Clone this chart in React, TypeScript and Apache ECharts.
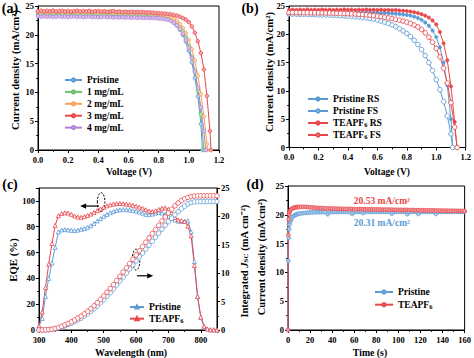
import { useEffect, useRef } from "react";
import * as echarts from "echarts";

const FONT = '"Liberation Serif", "Times New Roman", Times, serif';
const BLUE = "#5b9bd5";
const GREEN = "#6cc06c";
const ORANGE = "#f5a35c";
const RED = "#e8484c";
const PURPLE = "#b07fd6";

// ---------- (a) J-V for different concentrations ----------
const voltageA = [0, 0.02, 0.04, 0.06, 0.08, 0.1, 0.12, 0.14, 0.16, 0.18, 0.2, 0.22, 0.24, 0.26, 0.28, 0.3, 0.32, 0.34, 0.36, 0.38, 0.4, 0.42, 0.44, 0.46, 0.48, 0.5, 0.52, 0.54, 0.56, 0.58, 0.6, 0.62, 0.64, 0.66, 0.68, 0.7, 0.72, 0.74, 0.76, 0.78, 0.8, 0.82, 0.84, 0.86, 0.88, 0.9, 0.92, 0.94, 0.96, 0.98, 1.0, 1.02, 1.04, 1.06, 1.08, 1.1, 1.12, 1.14];
const namesA = ["Pristine", "1 mg/mL", "2 mg/mL", "3 mg/mL", "4 mg/mL"];
const jPristineA = [23.45, 23.38, 23.42, 23.35, 23.4, 23.44, 23.36, 23.41, 23.38, 23.33, 23.4, 23.37, 23.42, 23.35, 23.39, 23.34, 23.41, 23.36, 23.38, 23.32, 23.37, 23.4, 23.34, 23.36, 23.31, 23.38, 23.33, 23.35, 23.3, 23.34, 23.29, 23.33, 23.28, 23.31, 23.27, 23.3, 23.25, 23.28, 23.24, 23.22,
  23.2, 23.1, 23.0, 22.8, 22.5, 22.1, 21.6, 20.9, 20.0, 18.8, 17.2, 15.2, 12.5, 9.3, 4.5];
const j1mgA = [23.72, 23.65, 23.7, 23.62, 23.68, 23.74, 23.66, 23.7, 23.64, 23.69, 23.61, 23.67, 23.72, 23.63, 23.68, 23.6, 23.66, 23.7, 23.62, 23.65, 23.59, 23.66, 23.61, 23.64, 23.58, 23.63, 23.57, 23.62, 23.56, 23.6, 23.55, 23.58, 23.52, 23.56, 23.5, 23.53, 23.48, 23.5, 23.46, 23.44,
  23.4, 23.3, 23.2, 23.0, 22.8, 22.5, 22.0, 21.4, 20.6, 19.5, 18.0, 16.1, 13.6, 10.4, 6.2];
const j2mgA = [24.02, 23.95, 24.05, 23.98, 24.03, 23.94, 24.0, 24.06, 23.97, 24.01, 23.93, 23.99, 24.04, 23.96, 24.0, 23.92, 23.98, 24.02, 23.94, 23.97, 23.91, 23.96, 23.99, 23.9, 23.95, 23.88, 23.93, 23.86, 23.91, 23.84, 23.89, 23.82, 23.86, 23.8, 23.83, 23.78, 23.8, 23.75, 23.72, 23.68,
  23.6, 23.5, 23.4, 23.3, 23.1, 22.8, 22.4, 21.9, 21.2, 20.3, 19.1, 17.5, 15.5, 12.9, 9.7, 5.8, 1.0];
const j3mgA = [24.1, 24.18, 24.05, 24.15, 24.08, 24.2, 24.02, 24.12, 24.16, 24.06, 24.14, 24.0, 24.1, 24.18, 24.04, 24.12, 24.07, 24.15, 24.01, 24.09, 24.13, 24.03, 24.1, 23.98, 24.06, 24.11, 23.97, 24.04, 23.95, 24.02, 23.93, 24.0, 23.92, 23.97, 23.9, 23.94, 23.87, 23.9, 23.84, 23.8,
  23.75, 23.72, 23.68, 23.62, 23.55, 23.45, 23.32, 23.15, 22.92, 22.62, 22.2, 21.45, 20.35, 18.85, 16.85, 14.0, 9.4, 3.3];
const j4mgA = [23.22, 23.15, 23.2, 23.12, 23.18, 23.1, 23.16, 23.21, 23.11, 23.17, 23.08, 23.14, 23.19, 23.09, 23.15, 23.06, 23.13, 23.17, 23.07, 23.12, 23.05, 23.11, 23.14, 23.04, 23.1, 23.02, 23.08, 23.0, 23.06, 22.99, 23.04, 22.97, 23.02, 22.95, 22.99, 22.93, 22.96, 22.91, 22.93, 22.9,
  22.86, 22.8, 22.72, 22.6, 22.42, 22.12, 21.65, 21.02, 20.2, 19.1, 17.7, 15.9, 13.6, 10.8, 7.4, 3.3];
const vocA = [1.09, 1.1, 1.122, 1.147, 1.112];

// ---------- (b) hysteresis ----------
const voltageB = [0, 0.025, 0.05, 0.075, 0.1, 0.125, 0.15, 0.175, 0.2, 0.225, 0.25, 0.275, 0.3, 0.325, 0.35, 0.375, 0.4, 0.425, 0.45, 0.475, 0.5, 0.525, 0.55, 0.575, 0.6, 0.625, 0.65, 0.675, 0.7, 0.725, 0.75, 0.775, 0.8, 0.825, 0.85, 0.875, 0.9, 0.925, 0.95, 0.975, 1.0, 1.025, 1.05, 1.075, 1.1, 1.125];
const namesB = ["Pristine RS", "Pristine FS", "TEAPF6 RS", "TEAPF6 FS"];
const jPristineRS = [23.7, 23.74, 23.72, 23.76, 23.73, 23.78, 23.75, 23.79, 23.76, 23.8, 23.78, 23.82, 23.79, 23.83, 23.8, 23.84, 23.81, 23.85, 23.82, 23.84, 23.82, 23.85, 23.81, 23.83, 23.8, 23.78, 23.76, 23.72, 23.68,
  23.63, 23.57, 23.5, 23.42, 23.3, 23.12, 22.88, 22.55, 22.1, 21.5, 20.65, 19.5, 17.7, 15.0, 11.0, 5.0];
const jPristineFS = [23.6, 23.58, 23.57, 23.55, 23.54, 23.52, 23.5, 23.48, 23.46, 23.44, 23.42, 23.4, 23.37, 23.34, 23.31, 23.27, 23.22, 23.17, 23.12, 23.06, 22.98, 22.9, 22.8, 22.68, 22.52, 22.35, 22.15, 21.92, 21.65, 21.35, 21.0, 20.6, 20.15, 19.6, 18.95, 18.2, 17.3, 16.25, 15.0, 13.6, 12.0, 10.2, 8.1, 5.6, 2.4];
const jTeapfRS = [24.3, 24.34, 24.28, 24.36, 24.31, 24.38, 24.3, 24.35, 24.29, 24.37, 24.32, 24.36, 24.28, 24.34, 24.3, 24.38, 24.33, 24.36, 24.29, 24.35, 24.31, 24.37, 24.3, 24.34, 24.28, 24.33, 24.27, 24.31, 24.24, 24.28, 24.21, 24.17, 24.12,
  24.02, 23.9, 23.75, 23.55, 23.3, 22.95, 22.45, 21.75, 20.4, 18.4, 15.4, 10.8, 4.5];
const jTeapfFS = [23.85, 23.84, 23.84, 23.83, 23.82, 23.82, 23.81, 23.8, 23.79, 23.78, 23.77, 23.75, 23.74, 23.72, 23.7, 23.68, 23.65, 23.62, 23.58, 23.54, 23.5, 23.44, 23.38, 23.3, 23.22, 23.12, 23.02, 22.9, 22.78, 22.64, 22.5, 22.34, 22.15, 21.92, 21.65, 21.3, 20.85, 20.25, 19.5, 18.6, 17.5, 16.0, 14.0, 11.4, 7.9, 3.6];
const vocB = [1.112, 1.112, 1.141, 1.142];

// ---------- (c) EQE and integrated Jsc ----------
const wavelength = [300, 310, 320, 330, 340, 350, 360, 370, 380, 390, 400, 410, 420, 430, 440, 450, 460, 470, 480, 490, 500, 510, 520, 530, 540, 550, 560, 570, 580, 590, 600, 610, 620, 630, 640, 650, 660, 670, 680, 690, 700, 710, 720, 730, 740, 750, 760, 770, 780, 790, 800, 810, 820, 830, 840, 850];
const eqePristine = [3, 9, 26, 40, 52, 64, 76, 77.5, 77.8, 77.5, 77.2, 77.0, 77.4, 78.0, 78.6, 79.5, 80.8, 82.5, 84.4, 86.3, 88.0, 89.5, 90.8, 91.8, 92.6, 93.1, 93.3, 93.2, 93.0, 92.6, 92.1, 91.4, 90.5, 89.6, 89.3, 89.8, 90.6, 91.0, 90.6, 89.5, 88.0, 86.6, 85.2, 84.4, 84.0, 84.3, 84.6, 76.0, 53.0, 26.0, 9.5, 3.0, 0.8, 0.2, 0.1, 0];
const eqeTeapf = [3, 14, 33, 51, 67, 81, 88.5, 90.2, 90.8, 90.6, 89.6, 88.3, 87.5, 87.3, 87.8, 88.7, 89.8, 91.0, 92.4, 93.8, 95.1, 96.2, 97.0, 97.6, 97.9, 98.0, 97.8, 97.5, 97.1, 96.6, 96.0, 95.2, 94.3, 93.2, 92.2, 91.8, 92.4, 93.4, 94.3, 94.6, 93.6, 90.8, 87.2, 85.3, 84.8, 84.0, 80.5, 73.0, 50.0, 26.0, 10.0, 3.0, 0.8, 0.2, 0.1, 0];
const intPristine = [0, 0.01, 0.02, 0.05, 0.11, 0.2, 0.33, 0.5, 0.72, 0.95, 1.2, 1.47, 1.77, 2.1, 2.46, 2.86, 3.28, 3.74, 4.24, 4.78, 5.35, 5.95, 6.58, 7.24, 7.92, 8.62, 9.33, 10.04, 10.75, 11.46, 12.17, 12.87, 13.56, 14.24, 14.93, 15.63, 16.34, 17.05, 17.75, 18.43, 19.08, 19.7, 20.3, 20.85, 21.35, 21.8, 22.2, 22.45, 22.56, 22.6, 22.62, 22.62, 22.62, 22.62, 22.62, 22.62];
const intTeapf = [0, 0.01, 0.03, 0.07, 0.15, 0.28, 0.45, 0.65, 0.9, 1.15, 1.45, 1.75, 2.1, 2.45, 2.85, 3.3, 3.75, 4.25, 4.8, 5.4, 6.0, 6.65, 7.3, 8.0, 8.7, 9.45, 10.2, 10.95, 11.7, 12.45, 13.2, 13.95, 14.7, 15.45, 16.2, 16.95, 17.7, 18.45, 19.2, 19.9, 20.6, 21.25, 21.85, 22.35, 22.8, 23.1, 23.35, 23.5, 23.58, 23.62, 23.63, 23.63, 23.63, 23.63, 23.63, 23.63];

// ---------- (d) steady-state output ----------
const timeD = [0, 0.3, 0.6, 1, 1.5, 2, 2.5, 3, 4, 5, 6, 7, 8, 9, 10, 12, 14, 16, 18, 20, 22, 24, 26, 28, 30, 32, 34, 36, 38, 40, 42, 44, 46, 48, 50, 52, 54, 56, 58, 60, 62, 64, 66, 68, 70, 72, 74, 76, 78, 80, 82, 84, 86, 88, 90, 92, 94, 96, 98, 100, 102, 104, 106, 108, 110, 112, 114, 116, 118, 120, 122, 124, 126, 128, 130, 132, 134, 136, 138, 140, 142, 144, 146, 148, 150, 152, 154, 156, 158, 160];
const jPristineD = [0, 12.0, 16.0, 17.5, 18.3, 18.8, 19.1, 19.3, 19.6, 19.8, 19.9, 20.0, 20.1, 20.15, 20.2,
  20.25, 20.3, 20.33, 20.36, 20.4, 20.42, 20.44, 20.45, 20.46, 20.47, 20.48, 20.47, 20.1, 20.45, 20.48, 20.5, 20.49, 20.5, 20.51, 20.5, 20.52, 20.5, 20.51, 20.15, 20.45, 20.5, 20.52, 20.51, 20.3, 20.5, 20.52, 20.51, 20.53, 20.52, 20.54, 20.53, 20.52, 20.54, 20.53, 20.52, 20.5, 20.2, 20.48, 20.52, 20.53, 20.52, 20.54, 20.5, 20.12, 20.45, 20.52, 20.53, 20.5, 20.15, 20.48, 20.52, 20.53, 20.52, 20.54, 20.52, 20.5, 20.15, 20.48, 20.52, 20.53, 20.52, 20.54, 20.53, 20.52, 20.54, 20.53, 20.52, 20.54, 20.53, 20.52];
const jTeapfD = [0, 16.5, 19.2, 20.1, 20.5, 20.75, 20.9, 21.0, 21.1, 21.2, 21.25, 21.3, 21.32, 21.35, 21.36,
  21.38, 21.38, 21.36, 21.34, 21.3, 21.27, 21.24, 21.2, 21.18, 21.16, 21.14, 21.12, 21.1, 21.1, 21.08, 21.07, 21.06, 21.05, 21.04, 21.03, 21.02, 21.02, 21.0, 21.0, 20.99, 20.98, 20.98, 20.97, 20.96, 20.96, 20.95, 20.94, 20.94, 20.93, 20.92, 20.92, 20.91, 20.9, 20.9, 20.89, 20.88, 20.88, 20.87, 20.86, 20.86, 20.85, 20.84, 20.84, 20.83, 20.82, 20.82, 20.81, 20.8, 20.8, 20.79, 20.78, 20.78, 20.77, 20.76, 20.76, 20.75, 20.74, 20.74, 20.73, 20.72, 20.72, 20.71, 20.7, 20.7, 20.69, 20.68, 20.68, 20.67, 20.66, 20.66];
const avgTexts = ["20.53 mA/cm²", "20.31 mA/cm²"];

function jvPairs(vs: number[], js: number[], voc: number) {
  const out: number[][] = js.map((j, i) => [vs[i], j]);
  out.push([voc, 0]);
  return out;
}
function zipPairs(xs: number[], ys: number[]) {
  return ys.map((y, i) => [xs[i], y]);
}

const bold = { fontFamily: FONT, fontWeight: "bold" as const, color: "#000" };

function series(name: string, data: number[][], xi: number, yi: number, color: string, symbol: string, size: number, fill: string, bw = 0.8) {
  return {
    type: "line", name, data, xAxisIndex: xi, yAxisIndex: yi,
    symbol, symbolSize: size, showSymbol: true, showAllSymbol: true,
    color,
    lineStyle: { color, width: 1 },
    itemStyle: { color: fill, borderColor: color, borderWidth: bw },
    emphasis: { disabled: true }, silent: true,
  };
}

function axis(extra: any) {
  return {
    type: "value",
    axisLine: { show: true, onZero: false, lineStyle: { color: "#000", width: 1 } },
    axisTick: { show: true, inside: false, length: 3, lineStyle: { color: "#000", width: 1 } },
    minorTick: { show: true, splitNumber: 2, length: 1.8, lineStyle: { color: "#000", width: 1 } },
    splitLine: { show: false },
    axisLabel: { ...bold, fontSize: 8.5, margin: 4 },
    ...extra,
  };
}

const legendText = {
  ...bold, fontSize: 9.5, lineHeight: 10,
  rich: { sub: { ...bold, fontSize: 6.5, lineHeight: 5, verticalAlign: "bottom" as const } },
};
const legendFmt = (name: string) => name.split(":")[1].replace("TEAPF6", "TEAPF{sub|6}");

export default function App() {
  const ref = useRef<HTMLDivElement>(null);
  useEffect(() => {
    const chart = echarts.init(ref.current!, null, { renderer: "svg" });
    const colorsA = [BLUE, GREEN, ORANGE, RED, PURPLE];
    const fillsA = ["#b7d5ef", "#b8e2b8", "#fad2ad", "#f4a8aa", "#dcc2ef"];
    const jA = [jPristineA, j1mgA, j2mgA, j3mgA, j4mgA];
    const sA = namesA.map((n, i) => series("a:" + n, jvPairs(voltageA, jA[i], vocA[i]), 0, 0, colorsA[i], "circle", 3.6, fillsA[i]));
    const jB = [jPristineRS, jPristineFS, jTeapfRS, jTeapfFS];
    const colB = [BLUE, BLUE, RED, RED];
    const sB = namesB.map((n, i) => series("b:" + n, jvPairs(voltageB, jB[i], vocB[i]), 1, 1, colB[i], "circle", i % 2 === 0 ? 3.4 : 4.6, i % 2 === 0 ? colB[i] : "#fff", i % 2 === 0 ? 0.6 : 0.9));
    const sC = [
      series("c:Pristine", zipPairs(wavelength, eqePristine), 2, 2, BLUE, "triangle", 4, "#fff"),
      series("c:TEAPF6", zipPairs(wavelength, eqeTeapf), 2, 2, RED, "triangle", 4, "#fff"),
      series("ci:Pristine", zipPairs(wavelength, intPristine), 2, 3, BLUE, "circle", 4.6, "#fff"),
      series("ci:TEAPF6", zipPairs(wavelength, intTeapf), 2, 3, RED, "circle", 4.6, "#fff"),
    ];
    const sD = [
      series("d:Pristine", zipPairs(timeD, jPristineD), 3, 4, BLUE, "circle", 3.8, "#a9cbea", 0.8),
      series("d:TEAPF6", zipPairs(timeD, jTeapfD), 3, 4, RED, "circle", 3.8, "#f29a9c", 0.8),
    ];

    const gridBox = { show: true, borderColor: "#000", borderWidth: 1, containLabel: false };
    const vFmt = (v: number) => v.toFixed(1);
    const option: any = {
      animation: false,
      backgroundColor: "#fff",
      textStyle: { fontFamily: FONT },
      grid: [
        { ...gridBox, left: 38, top: 6, width: 181, height: 144 },
        { ...gridBox, left: 289, top: 6, width: 177, height: 141.5 },
        { ...gridBox, left: 39, top: 188, width: 178, height: 142 },
        { ...gridBox, left: 288, top: 186, width: 179, height: 144 },
      ],
      xAxis: [
        axis({ gridIndex: 0, min: 0, max: 1.2, interval: 0.2, axisLabel: { ...bold, fontSize: 8.5, margin: 5, formatter: vFmt } }),
        axis({ gridIndex: 1, min: 0, max: 1.2, interval: 0.2, axisLabel: { ...bold, fontSize: 8.5, margin: 5, formatter: vFmt } }),
        axis({ gridIndex: 2, min: 300, max: 850, interval: 100, axisLabel: { ...bold, fontSize: 8.5, margin: 5, showMaxLabel: false } }),
        axis({ gridIndex: 3, min: 0, max: 160, interval: 20, axisLabel: { ...bold, fontSize: 8.5, margin: 5 } }),
      ],
      yAxis: [
        axis({ gridIndex: 0, min: 0, max: 25, interval: 5 }),
        axis({ gridIndex: 1, min: 0, max: 25, interval: 5 }),
        axis({ gridIndex: 2, min: 0, max: 110, interval: 20, axisLabel: { ...bold, fontSize: 8.5, margin: 4, showMaxLabel: false } }),
        axis({ gridIndex: 2, position: "right", min: 0, max: 25, interval: 5 }),
        axis({ gridIndex: 3, min: 0, max: 25, interval: 5 }),
      ],
      legend: [
        { data: namesA.map((n) => "a:" + n), left: 59, top: 70, orient: "vertical", itemWidth: 17, itemHeight: 4, itemGap: 1.9, selectedMode: false, textStyle: legendText, formatter: legendFmt },
        { data: namesB.map((n) => "b:" + n), left: 302, top: 89, orient: "vertical", itemWidth: 20, itemHeight: 4, itemGap: 2, selectedMode: false, textStyle: legendText, formatter: legendFmt },
        { data: ["c:Pristine", "c:TEAPF6"], left: 124, top: 297, orient: "vertical", itemWidth: 14, itemHeight: 4, itemGap: 1.7, selectedMode: false, textStyle: legendText, formatter: legendFmt },
        { data: ["d:Pristine", "d:TEAPF6"], left: 369, top: 282, orient: "vertical", itemWidth: 18, itemHeight: 4, itemGap: 2.7, selectedMode: false, textStyle: legendText, formatter: legendFmt },
      ],
      series: [...sA, ...sB, ...sC, ...sD],
    };
    chart.setOption(option);

    const pc = (x: number, y: number) => chart.convertToPixel({ xAxisIndex: 2, yAxisIndex: 2 }, [x, y]) as number[];
    const pd = (x: number, y: number) => chart.convertToPixel({ xAxisIndex: 3, yAxisIndex: 4 }, [x, y]) as number[];
    const e1 = pc(492, 99);
    const a1s = pc(485, 96), a1e = pc(427, 96);
    const e2 = pc(600, 54.5);
    const a2s = pc(603, 42), a2e = pc(653, 42);
    const t1 = pd(85, 22.4), t2 = pd(85, 18.5);

    const txt = (text: string, x: number, y: number, size: number, rot = 0, fill = "#000", rich?: any) => ({
      type: "text", x, y, rotation: rot, silent: true,
      style: { text, fill, fontFamily: FONT, fontWeight: "bold", fontSize: size, align: "center", verticalAlign: "middle", rich },
    });
    const R = Math.PI / 2;
    const dash = { fill: "none", stroke: "#000", lineWidth: 1, lineDash: [2, 1.5] };
    const graphics: any[] = [
      txt("(a)", 10, 8, 14),
      txt("(b)", 250, 8.5, 14),
      txt("(c)", 10, 184, 14),
      txt("(d)", 255, 184, 14),
      txt("Voltage (V)", 129, 172, 9.5),
      txt("Voltage (V)", 387, 172, 9.5),
      txt("Wavelength (nm)", 131, 352, 9.8),
      txt("Time (s)", 370, 352, 9.8),
      txt("Current density (mA/cm²)", 15, 70, 10.8, R),
      txt("Current density (mA/cm²)", 269, 72, 10.8, R),
      txt("EQE (%)", 12.5, 260, 10.8, R),
      txt("Current density (mA/cm²)", 261, 257, 10.5, R),
      txt("Integrated {i|J}{sub|SC} (mA cm⁻²)", 244, 261, 10.5, R, "#000", {
        i: { fontFamily: FONT, fontWeight: "bold", fontStyle: "italic", fontSize: 10.5, fill: "#000" },
        sub: { fontFamily: FONT, fontWeight: "bold", fontSize: 7, fill: "#000", lineHeight: 5, verticalAlign: "bottom" },
      }),
      txt(avgTexts[0], t1[0], t1[1], 9.5, 0, RED),
      txt(avgTexts[1], t2[0], t2[1], 9.5, 0, BLUE),
      { type: "ellipse", silent: true, shape: { cx: e1[0], cy: e1[1], rx: 3.8, ry: 9.5 }, style: dash },
      { type: "ellipse", silent: true, shape: { cx: e2[0], cy: e2[1], rx: 3.8, ry: 10.5 }, style: dash },
      { type: "line", silent: true, shape: { x1: a1s[0], y1: a1s[1], x2: a1e[0] + 4, y2: a1e[1] }, style: { stroke: "#000", lineWidth: 1.2 } },
      { type: "polygon", silent: true, shape: { points: [[a1e[0], a1e[1]], [a1e[0] + 6, a1e[1] - 2.6], [a1e[0] + 6, a1e[1] + 2.6]] }, style: { fill: "#000" } },
      { type: "line", silent: true, shape: { x1: a2s[0], y1: a2s[1], x2: a2e[0] - 4, y2: a2e[1] }, style: { stroke: "#000", lineWidth: 1.2 } },
      { type: "polygon", silent: true, shape: { points: [[a2e[0], a2e[1]], [a2e[0] - 6, a2e[1] - 2.6], [a2e[0] - 6, a2e[1] + 2.6]] }, style: { fill: "#000" } },
    ];
    chart.setOption({ graphic: graphics });
    return () => chart.dispose();
  }, []);
  return <div ref={ref} style={{ position: "fixed", left: 0, top: 0, width: 474, height: 358 }} />;
}
